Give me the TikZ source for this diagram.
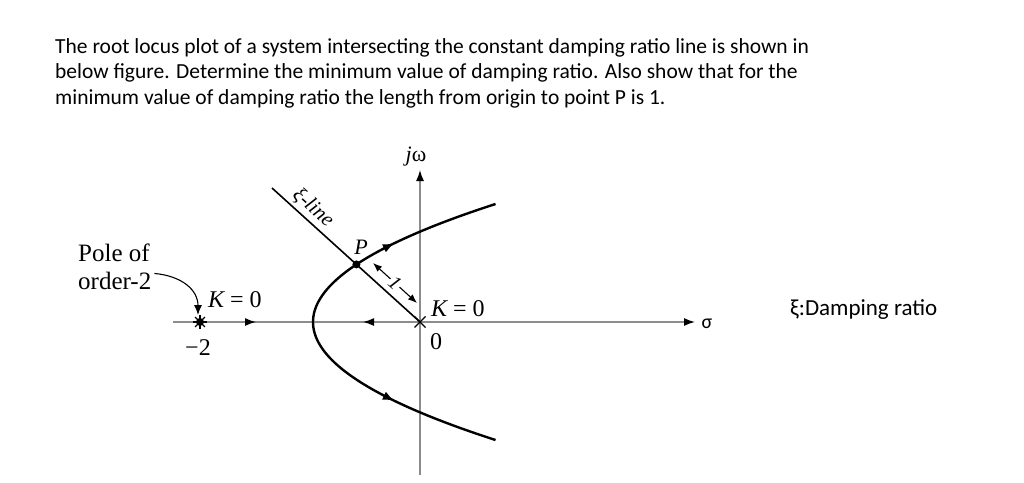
\documentclass[tikz,border=0pt]{standalone}
\usepackage{fontspec}
\setmainfont{Liberation Serif}
\newfontfamily\calfont{Carlito}
\usetikzlibrary{arrows.meta,calc}
\begin{document}
\begin{tikzpicture}[x=1pt,y=-1pt,
  axisline/.style={draw=black!45, line width=1.4pt},
  locus/.style={draw=black, line width=2.4pt},
  xiln/.style={draw=black, line width=1.6pt},
  bigtip/.style={-{Latex[length=11pt,width=8pt,color=black]}},
  lbl/.style={inner sep=0pt, font=\fontsize{24}{26}\selectfont},
  qtext/.style={inner sep=0pt, anchor=base west, font=\calfont\fontsize{21.5}{25.6}\selectfont}]
\useasboundingbox (0,0) rectangle (1024,482);
\fill[white] (0,0) rectangle (1024,482);
% question text
\node[qtext] (t1) at (55,53) {The root locus plot of a system intersecting the constant damping ratio line is shown in};
\node[qtext] (t2) at (55,78.6) {below figure. Determine the minimum value of damping ratio. Also show that for the};
\node[qtext] (t3) at (55,104.2) {minimum value of damping ratio the length from origin to point P is 1.};
% key points
\coordinate (O) at (420,322);
\coordinate (pole) at (200,322);
\coordinate (xL) at (173,322);
\coordinate (xR) at (695,322);
\coordinate (yB) at (420,475);
\coordinate (yT) at (420,170);
\coordinate (xiS) at (272,188);
\coordinate (P) at (356.4,264.4);
% axes
\draw[axisline, bigtip] (xL) -- (xR);
\draw[axisline, bigtip] (yB) -- (yT);
\draw[axisline, bigtip] (240,322) -- (256,322);
\draw[axisline, bigtip] (380,322) -- (363,322);
% root locus
\draw[locus] plot[domain=-118:118, samples=81, smooth] ({313+0.0131*\x*\x},{322+\x});
\draw[locus, -{Latex[length=12pt,width=9pt]}] (384,248.3) -- (394.8,243);
\draw[locus, -{Latex[length=12pt,width=9pt]}] (384,395.7) -- (394.8,401);
% damping line
\draw[xiln] (xiS) -- (O);
\fill (P) circle (4);
\draw[line width=1.1pt, {Latex[length=9pt,width=7pt]}-{Latex[length=9pt,width=7pt]}] (373,263) -- node[fill=white, inner sep=1pt, rotate=-42, font=\fontsize{20}{22}\selectfont]{\itshape 1} (417,303);
% origin cross and double pole
\draw[line width=1.2pt] ($(O)+(-5.5,-5.5)$) -- ($(O)+(5.5,5.5)$) ($(O)+(-5.5,5.5)$) -- ($(O)+(5.5,-5.5)$);
\foreach \a in {0,45,90,135} \draw[line width=1.3pt] ($(pole)+(\a:7)$) -- ($(pole)+(\a+180:7)$);
\fill (pole) circle (4);
% labels
\node[lbl, anchor=base west, font=\fontsize{25}{27}\selectfont] (pl1) at (78,261) {Pole of};
\node[lbl, anchor=base west, font=\fontsize{25}{27}\selectfont] (pl2) at (78,289) {order-2};
\draw[line width=1.1pt, -{Latex[length=10pt,width=8pt]}] ($(pl2.east)+(3,-7)$) .. controls (182,276) and (198,290) .. (198,315);
\node[lbl, anchor=base west] (k1) at (208,307) {{\itshape K} = 0};
\node[lbl, anchor=base west] (k2) at (431,316) {{\itshape K} = 0};
\node[lbl] (zero) at (436,342) {0};
\node[lbl] (m2) at (198,348) {−2};
\node[lbl, font=\fontsize{22}{24}\selectfont] (jw) at (416,157) {{\itshape j}ω};
\node[lbl, font=\fontsize{22}{24}\selectfont] (Pl) at (361,247) {\itshape P};
\node[lbl, font=\fontsize{21}{23}\selectfont, rotate=-42] (xil) at (313,208) {\itshape ξ-line};
\node[lbl, font=\calfont\fontsize{20}{22}\selectfont] (sig) at (707,324) {σ};
\node[lbl, anchor=west, font=\calfont\fontsize{23}{25}\selectfont] (dr) at (790,310) {ξ:Damping ratio};
\end{tikzpicture}
\end{document}
